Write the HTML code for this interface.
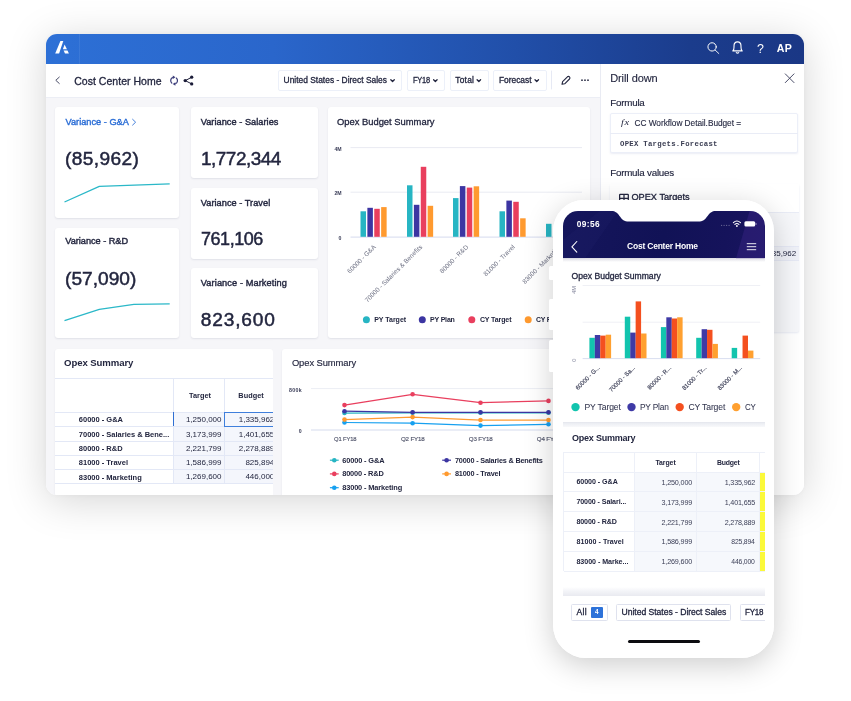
<!DOCTYPE html>
<html lang="en">
<head>
<meta charset="utf-8">
<title>Cost Center Home</title>
<style>
*{box-sizing:border-box;margin:0;padding:0}
html,body{width:851px;height:701px;overflow:hidden;background:#fff}
body{position:relative;font-family:"Liberation Sans",sans-serif;color:#23263f}
.abs{position:absolute}
.pg{position:absolute;width:851px;height:701px}
.t{position:absolute;white-space:nowrap;line-height:1;-webkit-text-stroke:.3px}
svg{position:absolute;left:0;top:0;overflow:visible}
#win{position:absolute;left:46px;top:34px;width:758px;height:461px;border-radius:11px;background:#f6f6f9;overflow:hidden}
#winsh{position:absolute;left:46px;top:34px;width:758px;height:461px;border-radius:11px;box-shadow:0 6px 40px rgba(0,0,0,.17),0 0 5px rgba(0,0,0,.03)}
.card{position:absolute;background:#fff;border-radius:3px;box-shadow:0 1px 2px rgba(40,50,90,.10)}
#phsh{position:absolute;left:553px;top:200px;width:221px;height:457.6px;border-radius:31px 31px 33px 33px;box-shadow:0 7px 30px rgba(0,0,0,.2)}
#ph{position:absolute;left:553px;top:200px;width:221px;height:457.6px;border-radius:31px 31px 33px 33px;background:#fff}
#scr{position:absolute;left:562.6px;top:210.8px;width:202px;height:437px;border-radius:15px 15px 24px 24px;background:#fff;overflow:hidden}
</style>
</head>
<body>
<div id="winsh"></div>
<div id="win"><div class="pg" style="left:-46px;top:-34px">
<div class="abs" style="left:46.00px;top:34.00px;width:758.00px;height:29.80px;background:linear-gradient(90deg,#2d70d6 0%,#2a66cb 30%,#214fa9 62%,#1b3c8c 85%,#1a3785 100%)"></div>
<div class="abs" style="left:79.40px;top:34.00px;width:0.80px;height:29.80px;background:rgba(255,255,255,.07)"></div>
<svg width="851" height="701" viewBox="0 0 851 701">
<g fill="#fff"><polygon points="55.2,53.6 59.1,53.6 63.3,41.1 60.4,41.1"/><polygon points="64.6,44.4 66.95,49.15 62.85,49.15"/><polygon points="63.6,50.6 67.5,50.6 68.9,53.6 65.0,53.6"/></g>
<g fill="none" stroke="#fff" stroke-width="1.0" stroke-linecap="round"><circle cx="712.1" cy="46.9" r="4.15"/><path d="M715.3 50.2 L718.8 53.5" stroke-width="0.9"/>
<path d="M732.8 50.9 H742.2 C740.7 49.6 741 48.2 741 46 C741 43.5 739.5 41.9 737.5 41.9 C735.5 41.9 734 43.5 734 46 C734 48.2 734.3 49.6 732.8 50.9 Z" stroke-linejoin="round" stroke-width="1.1"/><path d="M736.3 52.6 Q737.5 53.8 738.7 52.6" stroke-width="1.1"/></g>
</svg>
<div class="abs" style="left:46.00px;top:63.80px;width:554.30px;height:34.20px;background:#fff;border-bottom:1px solid #eceef5"></div>
<svg width="851" height="701" viewBox="0 0 851 701" fill="none" stroke-linecap="round" stroke-linejoin="round">
<path d="M59.3 77.1 L55.8 80.3 L59.3 83.5" stroke="#4a4d68" stroke-width="1"/>
<g stroke="#3b3d7a" stroke-width="1.25" stroke-linecap="butt"><path d="M172.15 83.39 A3.4 3.4 0 0 1 172.9 77.4"/><path d="M176.05 77.81 A3.4 3.4 0 0 1 175.3 83.8"/></g>
<g fill="#3b3d7a" stroke="none"><path d="M172.8 75.4 L175.5 77.2 L172.8 79 Z"/><path d="M175.4 82.2 L172.7 84 L175.4 85.8 Z"/></g>
<g stroke="#1b1c38" stroke-width="1"><path d="M191.6 77.3 L185.3 80.6 L191.6 83.9"/></g>
<g fill="#1b1c38" stroke="none"><circle cx="191.7" cy="77.2" r="1.65"/><circle cx="185.2" cy="80.6" r="1.65"/><circle cx="191.7" cy="83.9" r="1.65"/></g>
<path d="M551.5 71 V89" stroke="#e6e9f4" stroke-width="1"/>
<g stroke="#23263f" stroke-width="1.1"><path d="M562 84.3 L562.6 81.6 L567.4 76.8 Q568.5 75.9 569.5 76.9 Q570.5 78 569.5 79 L564.7 83.8 Z"/></g>
<g fill="#23263f" stroke="none"><circle cx="582" cy="80.2" r="0.85"/><circle cx="585" cy="80.2" r="0.85"/><circle cx="588" cy="80.2" r="0.85"/></g>
</svg>
<div class="abs" style="left:278.00px;top:70.00px;width:124.00px;height:21.00px;background:#fff;border:1px solid #ecf0f9;border-radius:2px"></div>
<svg width="851" height="701" viewBox="0 0 851 701" fill="none" stroke="#23263f" stroke-width="1.3" stroke-linecap="round" stroke-linejoin="round"><path d="M390.8 79.7 l1.75 1.75 l1.75 -1.75" /></svg>
<div class="abs" style="left:407.00px;top:70.00px;width:38.00px;height:21.00px;background:#fff;border:1px solid #ecf0f9;border-radius:2px"></div>
<svg width="851" height="701" viewBox="0 0 851 701" fill="none" stroke="#23263f" stroke-width="1.3" stroke-linecap="round" stroke-linejoin="round"><path d="M433.6 79.7 l1.75 1.75 l1.75 -1.75" /></svg>
<div class="abs" style="left:450.00px;top:70.00px;width:39.00px;height:21.00px;background:#fff;border:1px solid #ecf0f9;border-radius:2px"></div>
<svg width="851" height="701" viewBox="0 0 851 701" fill="none" stroke="#23263f" stroke-width="1.3" stroke-linecap="round" stroke-linejoin="round"><path d="M477.1 79.7 l1.75 1.75 l1.75 -1.75" /></svg>
<div class="abs" style="left:493.00px;top:70.00px;width:54.00px;height:21.00px;background:#fff;border:1px solid #ecf0f9;border-radius:2px"></div>
<svg width="851" height="701" viewBox="0 0 851 701" fill="none" stroke="#23263f" stroke-width="1.3" stroke-linecap="round" stroke-linejoin="round"><path d="M535.0 79.7 l1.75 1.75 l1.75 -1.75" /></svg>
<div class="card" style="left:55px;top:107px;width:124.20px;height:110.60px"></div>
<div class="card" style="left:55px;top:227.6px;width:124.20px;height:110.60px"></div>
<div class="card" style="left:191.3px;top:107px;width:126.60px;height:71.00px"></div>
<div class="card" style="left:191.3px;top:187.8px;width:126.60px;height:71.00px"></div>
<div class="card" style="left:191.3px;top:268.2px;width:126.60px;height:70.20px"></div>
<div class="card" style="left:327.6px;top:107px;width:262.20px;height:231.20px"></div>
<svg width="851" height="701" viewBox="0 0 851 701" fill="none" stroke="#2d6fd6" stroke-width="0.9" stroke-linecap="round" stroke-linejoin="round"><path d="M132.6 119.3 L135.6 122.2 L132.6 125.1"/></svg>
<svg width="851" height="701" viewBox="0 0 851 701" fill="none" stroke="#2bb8c8" stroke-width="1.3" stroke-linejoin="round">
<path d="M64.5 202 L99.3 186.3 L169.7 183.8"/><path d="M64.5 320.7 L99.3 309.4 L133.9 304.4 L169.7 303.9"/></svg>
<svg width="851" height="701" viewBox="0 0 851 701"><path d="M350.5 147.6 H582" stroke="#e9ebf2" stroke-width="1" fill="none"/><path d="M350.5 192.2 H582" stroke="#e9ebf2" stroke-width="1" fill="none"/><path d="M350.5 237.1 H582" stroke="#d5dbee" stroke-width="1" fill="none"/><rect x="360.50" y="211.30" width="5.5" height="25.50" fill="#27b5c3"/><rect x="367.38" y="207.80" width="5.5" height="29.00" fill="#3c35a2"/><rect x="374.26" y="208.80" width="5.5" height="28.00" fill="#e93f5e"/><rect x="381.14" y="207.10" width="5.5" height="29.70" fill="#ff9a2f"/><rect x="407.00" y="185.30" width="5.5" height="51.50" fill="#27b5c3"/><rect x="413.88" y="204.80" width="5.5" height="32.00" fill="#3c35a2"/><rect x="420.76" y="166.80" width="5.5" height="70.00" fill="#e93f5e"/><rect x="427.64" y="205.80" width="5.5" height="31.00" fill="#ff9a2f"/><rect x="453.00" y="198.10" width="5.5" height="38.70" fill="#27b5c3"/><rect x="459.88" y="186.10" width="5.5" height="50.70" fill="#3c35a2"/><rect x="466.76" y="187.60" width="5.5" height="49.20" fill="#e93f5e"/><rect x="473.64" y="186.30" width="5.5" height="50.50" fill="#ff9a2f"/><rect x="499.50" y="211.30" width="5.5" height="25.50" fill="#27b5c3"/><rect x="506.38" y="200.60" width="5.5" height="36.20" fill="#3c35a2"/><rect x="513.26" y="201.80" width="5.5" height="35.00" fill="#e93f5e"/><rect x="520.14" y="218.30" width="5.5" height="18.50" fill="#ff9a2f"/><rect x="546.00" y="223.80" width="5.5" height="13.00" fill="#27b5c3"/><rect x="559.76" y="212.80" width="5.5" height="24.00" fill="#e93f5e"/><rect x="566.64" y="227.50" width="5.5" height="9.30" fill="#ff9a2f"/><text x="376.2" y="247.5" text-anchor="end" transform="rotate(-45 376.2 247.5)" font-size="6.45" fill="#6d7083" font-family="Liberation Sans, sans-serif">60000 - G&amp;A</text><text x="422.7" y="247.5" text-anchor="end" transform="rotate(-45 422.7 247.5)" font-size="6.45" fill="#6d7083" font-family="Liberation Sans, sans-serif">70000 - Salaries &amp; Benefits</text><text x="468.7" y="247.5" text-anchor="end" transform="rotate(-45 468.7 247.5)" font-size="6.45" fill="#6d7083" font-family="Liberation Sans, sans-serif">80000 - R&amp;D</text><text x="515.2" y="247.5" text-anchor="end" transform="rotate(-45 515.2 247.5)" font-size="6.45" fill="#6d7083" font-family="Liberation Sans, sans-serif">81000 - Travel</text><text x="561.7" y="247.5" text-anchor="end" transform="rotate(-45 561.7 247.5)" font-size="6.45" fill="#6d7083" font-family="Liberation Sans, sans-serif">83000 - Marketing</text><circle cx="366.4" cy="319.7" r="3.5" fill="#27b5c3"/><circle cx="422.3" cy="319.7" r="3.5" fill="#3c35a2"/><circle cx="471.8" cy="319.7" r="3.5" fill="#e93f5e"/><circle cx="528.2" cy="319.7" r="3.5" fill="#ff9a2f"/></svg>
<div class="card" style="left:54.7px;top:348.8px;width:218px;height:160px;border-radius:3px 3px 0 0;overflow:hidden"></div>
<div class="abs" style="left:54.70px;top:378.10px;width:218.00px;height:0.90px;background:#e3e8f6"></div>
<div class="abs" style="left:174.00px;top:412.20px;width:98.70px;height:71.40px;background:#f4f6fc"></div>
<div class="abs" style="left:54.70px;top:411.80px;width:218.00px;height:0.90px;background:#e3e8f6"></div>
<div class="abs" style="left:54.70px;top:426.20px;width:218.00px;height:0.90px;background:#e3e8f6"></div>
<div class="abs" style="left:54.70px;top:440.50px;width:218.00px;height:0.90px;background:#e3e8f6"></div>
<div class="abs" style="left:54.70px;top:454.80px;width:218.00px;height:0.90px;background:#e3e8f6"></div>
<div class="abs" style="left:54.70px;top:469.10px;width:218.00px;height:0.90px;background:#e3e8f6"></div>
<div class="abs" style="left:54.70px;top:483.40px;width:218.00px;height:0.90px;background:#e3e8f6"></div>
<div class="abs" style="left:173.20px;top:378.10px;width:0.90px;height:105.30px;background:#e3e8f6"></div>
<div class="abs" style="left:224.00px;top:378.10px;width:0.90px;height:105.30px;background:#e3e8f6"></div>
<div class="abs" style="left:224.00px;top:411.60px;width:52.00px;height:15.30px;border:1.2px solid #3f7fdc"></div>
<div class="abs" style="left:172.80px;top:412.40px;width:1.40px;height:13.90px;background:#2f6fd3"></div>
<div class="abs" style="left:272.70px;top:340.00px;width:9.60px;height:160.00px;background:#f6f6f9"></div>
<div class="card" style="left:282.3px;top:348.8px;width:307.5px;height:160px;border-radius:3px 3px 0 0"></div>
<svg width="851" height="701" viewBox="0 0 851 701" fill="none"><path d="M311 388.6 H583" stroke="#eceef4" stroke-width="1"/><path d="M311 430 H583" stroke="#d5dbee" stroke-width="1.1"/><path d="M344.5 413 L412.6 412.8 L480.5 412.8 L548.5 412.8" stroke="#27b5c3" stroke-width="1.25"/><circle cx="344.5" cy="413" r="2.3" fill="#27b5c3"/><circle cx="412.6" cy="412.8" r="2.3" fill="#27b5c3"/><circle cx="480.5" cy="412.8" r="2.3" fill="#27b5c3"/><circle cx="548.5" cy="412.8" r="2.3" fill="#27b5c3"/><path d="M344.5 422.5 L412.6 423.2 L480.5 425.6 L548.5 424.3" stroke="#16a0f0" stroke-width="1.25"/><circle cx="344.5" cy="422.5" r="2.3" fill="#16a0f0"/><circle cx="412.6" cy="423.2" r="2.3" fill="#16a0f0"/><circle cx="480.5" cy="425.6" r="2.3" fill="#16a0f0"/><circle cx="548.5" cy="424.3" r="2.3" fill="#16a0f0"/><path d="M344.5 419.6 L412.6 417.1 L480.5 420 L548.5 420" stroke="#ff9a2f" stroke-width="1.25"/><circle cx="344.5" cy="419.6" r="2.3" fill="#ff9a2f"/><circle cx="412.6" cy="417.1" r="2.3" fill="#ff9a2f"/><circle cx="480.5" cy="420" r="2.3" fill="#ff9a2f"/><circle cx="548.5" cy="420" r="2.3" fill="#ff9a2f"/><path d="M344.5 411.2 L412.6 412.3 L480.5 412.3 L548.5 412.3" stroke="#3c35a2" stroke-width="1.25"/><circle cx="344.5" cy="411.2" r="2.3" fill="#3c35a2"/><circle cx="412.6" cy="412.3" r="2.3" fill="#3c35a2"/><circle cx="480.5" cy="412.3" r="2.3" fill="#3c35a2"/><circle cx="548.5" cy="412.3" r="2.3" fill="#3c35a2"/><path d="M344.5 405.1 L412.6 394.3 L480.5 402.7 L548.5 400.9" stroke="#e93f5e" stroke-width="1.25"/><circle cx="344.5" cy="405.1" r="2.3" fill="#e93f5e"/><circle cx="412.6" cy="394.3" r="2.3" fill="#e93f5e"/><circle cx="480.5" cy="402.7" r="2.3" fill="#e93f5e"/><circle cx="548.5" cy="400.9" r="2.3" fill="#e93f5e"/><path d="M329.90000000000003 460.2 H338.7" stroke="#27b5c3" stroke-width="1.2"/><circle cx="334.3" cy="460.2" r="2.3" fill="#27b5c3"/><path d="M329.90000000000003 473.9 H338.7" stroke="#e93f5e" stroke-width="1.2"/><circle cx="334.3" cy="473.9" r="2.3" fill="#e93f5e"/><path d="M329.90000000000003 487.7 H338.7" stroke="#16a0f0" stroke-width="1.2"/><circle cx="334.3" cy="487.7" r="2.3" fill="#16a0f0"/><path d="M442.20000000000005 460.2 H451.0" stroke="#3c35a2" stroke-width="1.2"/><circle cx="446.6" cy="460.2" r="2.3" fill="#3c35a2"/><path d="M442.20000000000005 473.9 H451.0" stroke="#ff9a2f" stroke-width="1.2"/><circle cx="446.6" cy="473.9" r="2.3" fill="#ff9a2f"/></svg>
<div class="abs" style="left:600.30px;top:63.80px;width:204.00px;height:432.00px;background:#fff;border-left:1px solid #e9ebf3"></div>
<svg width="851" height="701" viewBox="0 0 851 701" fill="none" stroke="#4a4d68" stroke-width="1" stroke-linecap="round"><path d="M785.3 73.9 L794 82.6 M794 73.9 L785.3 82.6"/></svg>
<div class="abs" style="left:610.20px;top:113.20px;width:188.20px;height:39.40px;background:#fff;border:1px solid #eceff8;border-radius:2px;box-shadow:0 1px 2px rgba(60,80,160,.10)"></div>
<div class="abs" style="left:610.20px;top:133.00px;width:188.20px;height:0.90px;background:#e9ecf6"></div>
<div class="abs" style="left:610.20px;top:184.00px;width:188.60px;height:148.30px;background:#f6f7fa;border-radius:2px;box-shadow:0 1px 2px rgba(60,80,160,.12)"></div>
<div class="abs" style="left:610.20px;top:184.00px;width:188.60px;height:28.70px;background:#fff;border-bottom:1px solid #e9ecf6"></div>
<svg width="851" height="701" viewBox="0 0 851 701" fill="none" stroke="#23263f" stroke-width="1.25"><rect x="619.65" y="194.4" width="8.65" height="7.9" rx="0.5"/><path d="M619.65 198.3 H628.3 M624 194.4 V202.3"/></svg>
<div class="abs" style="left:610.20px;top:246.00px;width:188.60px;height:14.70px;background:#eff1f8;border-top:1px solid #e6e9f5;border-bottom:1px solid #e6e9f5"></div>
<div class="t" style="left:757.00px;top:43.04px;font-size:12.4px;color:#fff;-webkit-text-stroke:0px;">?</div>
<div class="t" style="left:776.80px;top:43.22px;font-size:10.6px;font-weight:700;letter-spacing:0.181px;color:#fff;-webkit-text-stroke:0;">AP</div>
<div class="t" style="left:74.20px;top:75.77px;font-size:10.5px;letter-spacing:0.030px;color:#23263f;">Cost Center Home</div>
<div class="t" style="left:283.60px;top:76.40px;font-size:8.4px;letter-spacing:0.016px;color:#23263f;">United States - Direct Sales</div>
<div class="t" style="left:412.60px;top:76.40px;font-size:8.4px;letter-spacing:-0.210px;transform:scaleX(0.8865);transform-origin:0 50%;color:#23263f;">FY18</div>
<div class="t" style="left:455.20px;top:76.40px;font-size:8.4px;letter-spacing:0.274px;color:#23263f;">Total</div>
<div class="t" style="left:499.00px;top:76.40px;font-size:8.4px;letter-spacing:-0.013px;color:#23263f;">Forecast</div>
<div class="t" style="left:65.50px;top:117.61px;font-size:9.2px;letter-spacing:0.019px;color:#2d6fd6;-webkit-text-stroke:0.4px;">Variance - G&amp;A</div>
<div class="t" style="left:65.00px;top:148.97px;font-size:19.1px;letter-spacing:0.396px;color:#23263f;-webkit-text-stroke:0.5px;">(85,962)</div>
<div class="t" style="left:65.30px;top:237.31px;font-size:9.2px;letter-spacing:-0.027px;color:#23263f;-webkit-text-stroke:0.4px;">Variance - R&amp;D</div>
<div class="t" style="left:65.00px;top:268.77px;font-size:19.1px;letter-spacing:0.039px;color:#23263f;-webkit-text-stroke:0.5px;">(57,090)</div>
<div class="t" style="left:200.70px;top:117.51px;font-size:9.2px;letter-spacing:0.042px;color:#23263f;-webkit-text-stroke:0.4px;">Variance - Salaries</div>
<div class="t" style="left:200.70px;top:148.87px;font-size:19.1px;letter-spacing:-0.478px;transform:scaleX(0.9897);transform-origin:0 50%;color:#23263f;-webkit-text-stroke:0.5px;">1,772,344</div>
<div class="t" style="left:200.80px;top:198.81px;font-size:9.2px;letter-spacing:0.040px;color:#23263f;-webkit-text-stroke:0.4px;">Variance - Travel</div>
<div class="t" style="left:200.80px;top:229.17px;font-size:19.1px;letter-spacing:-0.478px;transform:scaleX(0.9416);transform-origin:0 50%;color:#23263f;-webkit-text-stroke:0.5px;">761,106</div>
<div class="t" style="left:200.80px;top:279.01px;font-size:9.2px;letter-spacing:0.106px;color:#23263f;-webkit-text-stroke:0.4px;">Variance - Marketing</div>
<div class="t" style="left:200.80px;top:309.97px;font-size:19.1px;letter-spacing:0.845px;color:#23263f;-webkit-text-stroke:0.5px;">823,600</div>
<div class="t" style="left:336.90px;top:116.91px;font-size:9.4px;letter-spacing:0.008px;color:#23263f;">Opex Budget Summary</div>
<div class="t" style="left:334.40px;top:147.26px;font-size:5.2px;font-weight:700;color:#3a3d58;-webkit-text-stroke:0;">4M</div>
<div class="t" style="left:334.40px;top:191.06px;font-size:5.2px;font-weight:700;color:#3a3d58;-webkit-text-stroke:0;">2M</div>
<div class="t" style="left:338.60px;top:235.86px;font-size:5.2px;font-weight:700;color:#3a3d58;-webkit-text-stroke:0;">0</div>
<div class="t" style="left:374.20px;top:316.38px;font-size:7px;font-weight:700;letter-spacing:-0.016px;color:#23263f;-webkit-text-stroke:0;">PY Target</div>
<div class="t" style="left:430.40px;top:316.38px;font-size:7px;font-weight:700;letter-spacing:-0.175px;transform:scaleX(0.9999);transform-origin:0 50%;color:#23263f;-webkit-text-stroke:0;">PY Plan</div>
<div class="t" style="left:479.90px;top:316.38px;font-size:7px;font-weight:700;letter-spacing:-0.103px;color:#23263f;-webkit-text-stroke:0;">CY Target</div>
<div class="t" style="left:536.40px;top:316.38px;font-size:7px;font-weight:700;letter-spacing:-0.175px;transform:scaleX(0.9850);transform-origin:0 50%;color:#23263f;-webkit-text-stroke:0;">CY Plan</div>
<div class="t" style="left:64.10px;top:358.31px;font-size:9.6px;font-weight:700;letter-spacing:-0.099px;color:#23263f;-webkit-text-stroke:0;">Opex Summary</div>
<div class="t" style="left:189.00px;top:391.73px;font-size:7.3px;font-weight:700;letter-spacing:0.027px;color:#23263f;-webkit-text-stroke:0;">Target</div>
<div class="t" style="left:238.30px;top:391.73px;font-size:7.3px;font-weight:700;letter-spacing:0.072px;color:#23263f;-webkit-text-stroke:0;">Budget</div>
<div class="t" style="left:78.80px;top:416.44px;font-size:7.5px;font-weight:700;color:#23263f;-webkit-text-stroke:0;">60000 - G&amp;A</div>
<div class="t" style="right:629.50px;top:416.19px;font-size:8px;color:#23263f;-webkit-text-stroke:0px;">1,250,000</div>
<div class="t" style="right:576.70px;top:416.19px;font-size:8px;color:#23263f;clip-path:inset(0 1.6px 0 0);-webkit-text-stroke:0px;">1,335,962</div>
<div class="t" style="left:78.80px;top:430.76px;font-size:7.5px;font-weight:700;color:#23263f;-webkit-text-stroke:0;">70000 - Salaries &amp; Bene...</div>
<div class="t" style="right:629.50px;top:430.51px;font-size:8px;color:#23263f;-webkit-text-stroke:0px;">3,173,999</div>
<div class="t" style="right:576.70px;top:430.51px;font-size:8px;color:#23263f;clip-path:inset(0 1.6px 0 0);-webkit-text-stroke:0px;">1,401,655</div>
<div class="t" style="left:78.80px;top:445.08px;font-size:7.5px;font-weight:700;color:#23263f;-webkit-text-stroke:0;">80000 - R&amp;D</div>
<div class="t" style="right:629.50px;top:444.83px;font-size:8px;color:#23263f;-webkit-text-stroke:0px;">2,221,799</div>
<div class="t" style="right:576.70px;top:444.83px;font-size:8px;color:#23263f;clip-path:inset(0 1.6px 0 0);-webkit-text-stroke:0px;">2,278,889</div>
<div class="t" style="left:78.80px;top:459.40px;font-size:7.5px;font-weight:700;color:#23263f;-webkit-text-stroke:0;">81000 - Travel</div>
<div class="t" style="right:629.50px;top:459.15px;font-size:8px;color:#23263f;-webkit-text-stroke:0px;">1,586,999</div>
<div class="t" style="right:576.70px;top:459.15px;font-size:8px;color:#23263f;clip-path:inset(0 1.6px 0 0);-webkit-text-stroke:0px;">825,894</div>
<div class="t" style="left:78.80px;top:473.72px;font-size:7.5px;font-weight:700;color:#23263f;-webkit-text-stroke:0;">83000 - Marketing</div>
<div class="t" style="right:629.50px;top:473.47px;font-size:8px;color:#23263f;-webkit-text-stroke:0px;">1,269,600</div>
<div class="t" style="right:576.70px;top:473.47px;font-size:8px;color:#23263f;clip-path:inset(0 1.6px 0 0);-webkit-text-stroke:0px;">446,000</div>
<div class="t" style="left:291.90px;top:358.21px;font-size:9.4px;letter-spacing:-0.075px;color:#23263f;-webkit-text-stroke:0.15px;">Opex Summary</div>
<div class="t" style="left:289.40px;top:387.86px;font-size:5.2px;font-weight:700;letter-spacing:0.364px;transform:scaleX(1.0127);transform-origin:0 50%;color:#3a3d58;-webkit-text-stroke:0;">800k</div>
<div class="t" style="left:298.80px;top:428.56px;font-size:5.2px;font-weight:700;color:#3a3d58;-webkit-text-stroke:0;">0</div>
<div class="t" style="left:334.00px;top:435.87px;font-size:6.2px;letter-spacing:-0.155px;transform:scaleX(0.9440);transform-origin:0 50%;color:#50546a;-webkit-text-stroke:0.15px;">Q1 FY18</div>
<div class="t" style="left:400.90px;top:435.87px;font-size:6.2px;letter-spacing:-0.144px;color:#50546a;-webkit-text-stroke:0.15px;">Q2 FY18</div>
<div class="t" style="left:468.80px;top:435.87px;font-size:6.2px;letter-spacing:-0.144px;color:#50546a;-webkit-text-stroke:0.15px;">Q3 FY18</div>
<div class="t" style="left:536.80px;top:435.87px;font-size:6.2px;letter-spacing:-0.144px;color:#50546a;-webkit-text-stroke:0.15px;">Q4 FY18</div>
<div class="t" style="left:342.20px;top:456.69px;font-size:7.4px;font-weight:700;letter-spacing:-0.125px;color:#23263f;-webkit-text-stroke:0;">60000 - G&amp;A</div>
<div class="t" style="left:342.20px;top:470.39px;font-size:7.4px;font-weight:700;letter-spacing:-0.154px;color:#23263f;-webkit-text-stroke:0;">80000 - R&amp;D</div>
<div class="t" style="left:342.20px;top:484.19px;font-size:7.4px;font-weight:700;letter-spacing:-0.127px;color:#23263f;-webkit-text-stroke:0;">83000 - Marketing</div>
<div class="t" style="left:454.70px;top:456.69px;font-size:7.4px;font-weight:700;letter-spacing:-0.185px;transform:scaleX(0.9836);transform-origin:0 50%;color:#23263f;-webkit-text-stroke:0;">70000 - Salaries &amp; Benefits</div>
<div class="t" style="left:454.70px;top:470.39px;font-size:7.4px;font-weight:700;letter-spacing:-0.185px;transform:scaleX(0.9871);transform-origin:0 50%;color:#23263f;-webkit-text-stroke:0;">81000 - Travel</div>
<div class="t" style="left:610.20px;top:73.13px;font-size:11px;letter-spacing:-0.089px;color:#23263f;-webkit-text-stroke:0.12px;">Drill down</div>
<div class="t" style="left:610.20px;top:97.61px;font-size:9.8px;letter-spacing:-0.223px;color:#23263f;-webkit-text-stroke:0.15px;">Formula</div>
<div class="t" style="left:620.60px;top:118.00px;font-size:9.2px;letter-spacing:0.644px;transform:scaleX(1.1257);transform-origin:0 50%;color:#23263f;font-family:'Liberation Serif',serif;font-style:italic;-webkit-text-stroke:0px;">fx</div>
<div class="t" style="left:634.50px;top:118.95px;font-size:8.3px;letter-spacing:-0.036px;color:#23263f;-webkit-text-stroke:0.1px;">CC Workflow Detail.Budget =</div>
<div class="t" style="left:620.00px;top:140.53px;font-size:7.3px;font-weight:700;letter-spacing:0.277px;color:#3a3d52;font-family:'Liberation Mono',monospace;-webkit-text-stroke:0px;">OPEX Targets.Forecast</div>
<div class="t" style="left:610.20px;top:167.61px;font-size:9.8px;letter-spacing:-0.230px;color:#23263f;-webkit-text-stroke:0.15px;">Formula values</div>
<div class="t" style="left:631.40px;top:192.81px;font-size:9.2px;letter-spacing:0.014px;color:#23263f;-webkit-text-stroke:0.3px;">OPEX Targets</div>
<div class="t" style="right:54.80px;top:249.69px;font-size:8px;color:#23263f;-webkit-text-stroke:0px;">85,962</div>
</div></div>
<div id="phsh"></div><div class="abs" style="left:549.4px;top:265.6px;width:7px;height:14.4px;border-radius:1.6px;background:#fff"></div><div class="abs" style="left:549.4px;top:299px;width:7px;height:31px;border-radius:1.6px;background:#fff"></div><div class="abs" style="left:549.4px;top:339.6px;width:7px;height:32.4px;border-radius:1.6px;background:#fff"></div><div id="ph"></div>
<div id="scr"><div class="pg" style="left:-562.6px;top:-210.8px">
<div class="abs" style="left:562.60px;top:210.80px;width:202.00px;height:47.60px;background:linear-gradient(100deg,#15165c 0%,#111256 50%,#15135b 80%,#1a1560 100%)"></div>
<svg width="851" height="701" viewBox="0 0 851 701"><polygon points="749.6,210.8 764.6,210.8 764.6,258.4 736,258.4" fill="rgba(72,44,150,.32)"/><polygon points="562.6,258.4 562.6,240 600,210.8 618,210.8 585,258.4" fill="rgba(90,90,170,.06)"/></svg>
<div class="abs" style="left:562.60px;top:258.40px;width:202.00px;height:4.00px;background:linear-gradient(180deg,rgba(30,30,80,.16),rgba(30,30,80,0))"></div>
<svg width="851" height="701" viewBox="0 0 851 701"><path d="M610.5 210.8 C621 210.8 618.5 221.6 629 221.6 H698.2 C708.7 221.6 706.2 210.8 716.7 210.8 Z" fill="#fff"/></svg>
<svg width="851" height="701" viewBox="0 0 851 701">
<g fill="rgba(255,255,255,.35)"><circle cx="721.6" cy="225.4" r="0.6"/><circle cx="724.1" cy="225.4" r="0.6"/><circle cx="726.6" cy="225.4" r="0.6"/><circle cx="729.1" cy="225.4" r="0.6"/></g>
<g fill="none" stroke="#fff" stroke-width="1.15" stroke-linecap="round"><path d="M733.4 222.6 Q736.9 219.4 740.4 222.6"/><path d="M734.9 224.4 Q736.9 222.6 738.9 224.4"/></g><circle cx="736.9" cy="226" r="0.9" fill="#fff"/>
<rect x="744.4" y="221.3" width="10.8" height="5.2" rx="1.5" fill="#fff"/><rect x="755.6" y="222.9" width="0.9" height="2" rx="0.4" fill="rgba(255,255,255,.6)"/>
<path d="M576.8 241.5 L571.9 246.8 L576.8 252.1" fill="none" stroke="#fff" stroke-width="1.1" stroke-linecap="round" stroke-linejoin="round"/>
<g stroke="#fff" stroke-width="0.9"><path d="M746.8 243.7 H756.2"/><path d="M746.8 246.7 H756.2"/><path d="M746.8 249.7 H756.2"/></g>
</svg>
<svg width="851" height="701" viewBox="0 0 851 701"><path d="M582.6 285.5 H760.2" stroke="#eff0f5" stroke-width="1" fill="none"/><path d="M582.6 322.2 H760.2" stroke="#eff0f5" stroke-width="1" fill="none"/><path d="M582.6 358.6 H760.2" stroke="#d9def0" stroke-width="1" fill="none"/><rect x="589.40" y="337.80" width="5.45" height="20.40" fill="#12c4ae"/><rect x="594.82" y="335.00" width="5.45" height="23.20" fill="#3f3aa6"/><rect x="600.24" y="335.60" width="5.45" height="22.60" fill="#f4501f"/><rect x="605.66" y="334.70" width="5.45" height="23.50" fill="#ffa030"/><rect x="624.80" y="316.70" width="5.45" height="41.50" fill="#12c4ae"/><rect x="630.22" y="332.60" width="5.45" height="25.60" fill="#3f3aa6"/><rect x="635.64" y="301.40" width="5.45" height="56.80" fill="#f4501f"/><rect x="641.06" y="333.50" width="5.45" height="24.70" fill="#ffa030"/><rect x="660.90" y="327.10" width="5.45" height="31.10" fill="#12c4ae"/><rect x="666.32" y="317.30" width="5.45" height="40.90" fill="#3f3aa6"/><rect x="671.74" y="318.50" width="5.45" height="39.70" fill="#f4501f"/><rect x="677.16" y="317.30" width="5.45" height="40.90" fill="#ffa030"/><rect x="696.20" y="337.80" width="5.45" height="20.40" fill="#12c4ae"/><rect x="701.62" y="329.20" width="5.45" height="29.00" fill="#3f3aa6"/><rect x="707.04" y="329.80" width="5.45" height="28.40" fill="#f4501f"/><rect x="712.46" y="343.90" width="5.45" height="14.30" fill="#ffa030"/><rect x="731.70" y="347.90" width="5.45" height="10.30" fill="#12c4ae"/><rect x="742.54" y="335.60" width="5.45" height="22.60" fill="#f4501f"/><rect x="747.96" y="350.60" width="5.45" height="7.60" fill="#ffa030"/><text x="600.1" y="368.1" text-anchor="end" transform="rotate(-45 600.1 368.1)" font-size="5.95" fill="#45485f" stroke="#45485f" stroke-width=".18" font-family="Liberation Sans, sans-serif">60000 - G...</text><text x="635.5" y="368.1" text-anchor="end" transform="rotate(-45 635.5 368.1)" font-size="5.95" fill="#45485f" stroke="#45485f" stroke-width=".18" font-family="Liberation Sans, sans-serif">70000 - Sa...</text><text x="671.6" y="368.1" text-anchor="end" transform="rotate(-45 671.6 368.1)" font-size="5.95" fill="#45485f" stroke="#45485f" stroke-width=".18" font-family="Liberation Sans, sans-serif">80000 - R...</text><text x="706.9" y="368.1" text-anchor="end" transform="rotate(-45 706.9 368.1)" font-size="5.95" fill="#45485f" stroke="#45485f" stroke-width=".18" font-family="Liberation Sans, sans-serif">81000 - Tr...</text><text x="742.4" y="368.1" text-anchor="end" transform="rotate(-45 742.4 368.1)" font-size="5.95" fill="#45485f" stroke="#45485f" stroke-width=".18" font-family="Liberation Sans, sans-serif">83000 - M...</text><text x="575.6" y="293.8" transform="rotate(-90 575.6 293.8)" font-size="5.6" fill="#80839a" font-family="Liberation Sans, sans-serif">4M</text><text x="576.1" y="361.8" transform="rotate(-90 576.1 361.8)" font-size="5.6" fill="#80839a" font-family="Liberation Sans, sans-serif">0</text><circle cx="575.5" cy="407.1" r="4.2" fill="#12c4ae"/><circle cx="631.5" cy="407.1" r="4.2" fill="#3f3aa6"/><circle cx="679.7" cy="407.1" r="4.2" fill="#f4501f"/><circle cx="736.2" cy="407.1" r="4.2" fill="#ffa030"/></svg>
<div class="abs" style="left:562.60px;top:421.80px;width:202.00px;height:5.00px;background:linear-gradient(180deg,#e3e5ec 0%,#eceef3 30%,#f8f9fb 100%)"></div>
<div class="abs" style="left:634.40px;top:472.00px;width:125.00px;height:99.30px;background:#f6f8fc"></div>
<div class="abs" style="left:759.90px;top:472.10px;width:5.00px;height:99.00px;background:#fbf93a"></div>
<div class="abs" style="left:563.50px;top:452.40px;width:201.00px;height:0.90px;background:#edf0f8"></div>
<div class="abs" style="left:563.50px;top:471.60px;width:201.00px;height:0.90px;background:#edf0f8"></div>
<div class="abs" style="left:563.50px;top:491.40px;width:201.00px;height:0.90px;background:#edf0f8"></div>
<div class="abs" style="left:563.50px;top:511.30px;width:201.00px;height:0.90px;background:#edf0f8"></div>
<div class="abs" style="left:563.50px;top:531.20px;width:201.00px;height:0.90px;background:#edf0f8"></div>
<div class="abs" style="left:563.50px;top:551.00px;width:201.00px;height:0.90px;background:#edf0f8"></div>
<div class="abs" style="left:563.50px;top:570.90px;width:201.00px;height:0.90px;background:#edf0f8"></div>
<div class="abs" style="left:563.30px;top:452.40px;width:0.90px;height:119.00px;background:#edf0f8"></div>
<div class="abs" style="left:633.80px;top:452.40px;width:0.90px;height:119.00px;background:#edf0f8"></div>
<div class="abs" style="left:696.30px;top:452.40px;width:0.90px;height:119.00px;background:#edf0f8"></div>
<div class="abs" style="left:759.30px;top:452.40px;width:0.90px;height:119.00px;background:#edf0f8"></div>
<div class="abs" style="left:562.60px;top:587.00px;width:202.00px;height:8.50px;background:linear-gradient(180deg,#ffffff 0%,#f3f4f8 45%,#e9eaf0 100%)"></div>
<div class="abs" style="left:571.30px;top:604.20px;width:37.10px;height:16.50px;background:#fff;border:1px solid #dfe2ee;border-radius:1.5px"></div>
<div class="abs" style="left:616.30px;top:604.20px;width:115.10px;height:16.50px;background:#fff;border:1px solid #dfe2ee;border-radius:1.5px"></div>
<div class="abs" style="left:739.60px;top:604.20px;width:40.00px;height:16.50px;background:#fff;border:1px solid #dfe2ee;border-radius:1.5px"></div>
<div class="abs" style="left:590.70px;top:607.00px;width:12.50px;height:10.90px;background:#2d72d9;border-radius:1px"></div>
<div class="abs" style="left:627.80px;top:639.80px;width:72.20px;height:3.60px;background:#0c0c10;border-radius:2px"></div>
<div class="t" style="left:576.80px;top:219.75px;font-size:8.3px;font-weight:700;letter-spacing:0.391px;color:#fff;-webkit-text-stroke:0;">09:56</div>
<div class="t" style="left:626.80px;top:242.40px;font-size:8.6px;font-weight:700;letter-spacing:-0.215px;transform:scaleX(0.9896);transform-origin:0 50%;color:#fff;-webkit-text-stroke:0;">Cost Center Home</div>
<div class="t" style="left:571.60px;top:272.10px;font-size:8.6px;letter-spacing:-0.007px;color:#23263f;-webkit-text-stroke:0.3px;">Opex Budget Summary</div>
<div class="t" style="left:584.40px;top:403.00px;font-size:8.6px;letter-spacing:-0.117px;color:#33364f;-webkit-text-stroke:0.05px;">PY Target</div>
<div class="t" style="left:640.00px;top:403.00px;font-size:8.6px;letter-spacing:-0.215px;transform:scaleX(0.9724);transform-origin:0 50%;color:#33364f;-webkit-text-stroke:0.05px;">PY Plan</div>
<div class="t" style="left:688.50px;top:403.00px;font-size:8.6px;letter-spacing:-0.138px;color:#33364f;-webkit-text-stroke:0.05px;">CY Target</div>
<div class="t" style="left:744.80px;top:403.00px;font-size:8.6px;letter-spacing:-0.215px;transform:scaleX(0.9201);transform-origin:0 50%;color:#33364f;-webkit-text-stroke:0.05px;">CY</div>
<div class="t" style="left:571.50px;top:433.86px;font-size:9.3px;font-weight:700;letter-spacing:-0.233px;transform:scaleX(0.9686);transform-origin:0 50%;color:#23263f;-webkit-text-stroke:0;">Opex Summary</div>
<div class="t" style="left:655.40px;top:460.23px;font-size:6.9px;font-weight:700;letter-spacing:-0.049px;color:#23263f;-webkit-text-stroke:0;">Target</div>
<div class="t" style="left:717.10px;top:460.23px;font-size:6.9px;font-weight:700;letter-spacing:-0.173px;transform:scaleX(0.9969);transform-origin:0 50%;color:#23263f;-webkit-text-stroke:0;">Budget</div>
<div class="t" style="left:576.40px;top:479.43px;font-size:7.1px;font-weight:700;letter-spacing:-0.040px;color:#23263f;-webkit-text-stroke:0;">60000 - G&amp;A</div>
<div class="t" style="right:158.84px;top:478.78px;font-size:7.2px;letter-spacing:-0.136px;color:#3d4058;-webkit-text-stroke:0px;">1,250,000</div>
<div class="t" style="right:95.87px;top:478.78px;font-size:7.2px;letter-spacing:-0.173px;color:#3d4058;-webkit-text-stroke:0px;">1,335,962</div>
<div class="t" style="left:576.40px;top:499.30px;font-size:7.1px;font-weight:700;letter-spacing:-0.086px;color:#23263f;-webkit-text-stroke:0;">70000 - Salari...</div>
<div class="t" style="right:158.84px;top:498.65px;font-size:7.2px;letter-spacing:-0.136px;color:#3d4058;-webkit-text-stroke:0px;">3,173,999</div>
<div class="t" style="right:95.87px;top:498.65px;font-size:7.2px;letter-spacing:-0.173px;color:#3d4058;-webkit-text-stroke:0px;">1,401,655</div>
<div class="t" style="left:576.40px;top:519.17px;font-size:7.1px;font-weight:700;letter-spacing:-0.081px;color:#23263f;-webkit-text-stroke:0;">80000 - R&amp;D</div>
<div class="t" style="right:158.84px;top:518.52px;font-size:7.2px;letter-spacing:-0.136px;color:#3d4058;-webkit-text-stroke:0px;">2,221,799</div>
<div class="t" style="right:95.87px;top:518.52px;font-size:7.2px;letter-spacing:-0.173px;color:#3d4058;-webkit-text-stroke:0px;">2,278,889</div>
<div class="t" style="left:576.40px;top:539.04px;font-size:7.1px;font-weight:700;letter-spacing:0.058px;color:#23263f;-webkit-text-stroke:0;">81000 - Travel</div>
<div class="t" style="right:158.84px;top:538.39px;font-size:7.2px;letter-spacing:-0.136px;color:#3d4058;-webkit-text-stroke:0px;">1,586,999</div>
<div class="t" style="right:95.87px;top:538.39px;font-size:7.2px;letter-spacing:-0.180px;transform:scaleX(0.9476);transform-origin:100% 50%;color:#3d4058;-webkit-text-stroke:0px;">825,894</div>
<div class="t" style="left:576.40px;top:558.91px;font-size:7.1px;font-weight:700;letter-spacing:-0.030px;color:#23263f;-webkit-text-stroke:0;">83000 - Marke...</div>
<div class="t" style="right:158.84px;top:558.26px;font-size:7.2px;letter-spacing:-0.136px;color:#3d4058;-webkit-text-stroke:0px;">1,269,600</div>
<div class="t" style="right:95.87px;top:558.26px;font-size:7.2px;letter-spacing:-0.180px;transform:scaleX(0.9476);transform-origin:100% 50%;color:#3d4058;-webkit-text-stroke:0px;">446,000</div>
<div class="t" style="left:576.50px;top:608.40px;font-size:8.6px;letter-spacing:0.319px;color:#23263f;">All</div>
<div class="t" style="left:595.10px;top:609.47px;font-size:6.4px;font-weight:700;color:#fff;-webkit-text-stroke:0;">4</div>
<div class="t" style="left:621.50px;top:608.40px;font-size:8.6px;letter-spacing:-0.032px;color:#23263f;">United States - Direct Sales</div>
<div class="t" style="left:744.80px;top:608.40px;font-size:8.6px;letter-spacing:-0.215px;transform:scaleX(0.9296);transform-origin:0 50%;color:#23263f;">FY18</div>
</div></div>

</body>
</html>
